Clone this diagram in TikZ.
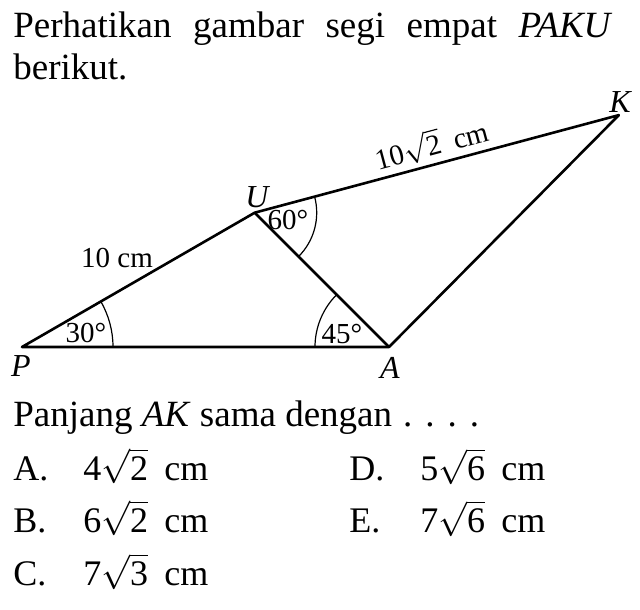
\documentclass[tikz,border=0pt]{standalone}
\usepackage{fontspec}
\setmainfont{Liberation Serif}
\usetikzlibrary{calc}
\newcommand{\rt}[1]{$\sqrt{\mbox{#1}}$}
\newcommand{\cmu}{\hspace{0.45em}cm}
\begin{document}
\begin{tikzpicture}[x=0.5pt,y=0.5pt,
  txt/.style={anchor=base west,inner sep=0pt,font=\fontsize{18.5}{22}\selectfont},
  opt/.style={anchor=base west,inner sep=0pt,font=\fontsize{18}{22}\selectfont},
  lbl/.style={inner sep=0pt,font=\fontsize{14.5}{17}\selectfont},
  vtx/.style={inner sep=0pt,font=\fontsize{16}{18}\selectfont\itshape},
  edge/.style={line width=1.3pt,line join=round},
  ang/.style={line width=0.6pt}]
\useasboundingbox (0,0) rectangle (640,609);
% header
\node[txt] (h1) at (13,571) {\hbox to 299.5pt{Perhatikan\hfill gambar\hfill segi\hfill empat\hfill \textit{PAKU}}};
\node[txt] (h2) at (13,529) {berikut.};
% vertices
\coordinate (P) at (22,262);
\coordinate (A) at (389,262);
\coordinate (U) at (254.7,396.3);
\coordinate (K) at ($(U)+(15:377)$);
\draw[edge] (P) -- (A) -- (K) -- (U) -- cycle;
\draw[edge] (U) -- (A);
% angle arcs
\draw[ang] ($(P)+(0:91)$) arc[start angle=0,end angle=30,radius=91];
\draw[ang] ($(A)+(135:74)$) arc[start angle=135,end angle=180,radius=74];
\draw[ang] ($(U)+(-45:62)$) arc[start angle=-45,end angle=15,radius=62];
% vertex labels
\node[vtx] (lP) at (21,243) {P};
\node[vtx] (lA) at (390,241) {A};
\node[vtx] (lU) at (257,412) {U};
\node[vtx] (lK) at (620,507) {K};
% angle labels
\node[lbl] (a30) at (86,276) {30°};
\node[lbl] (a45) at (342,275) {45°};
\node[lbl] (a60) at (288,389) {60°};
% side labels
\node[lbl] (s1) at (117,351) {10 cm};
\node[lbl,rotate=15,anchor=base] (s2) at ($(U)!0.5!(K)+(105:9)$) {10\rt{2}\cmu};
% question
\node[txt] (q) at (13,182) {Panjang \textit{AK} sama dengan\hspace{5.5pt}.\hspace{6.5pt}.\hspace{6.5pt}.\hspace{6.5pt}.};
\node[opt] (oA) at (13,129) {A.};
\node[opt] (vA) at (83,129) {4\rt{2}\cmu};
\node[opt] (oB) at (13,77) {B.};
\node[opt] (vB) at (83,77) {6\rt{2}\cmu};
\node[opt] (oC) at (13,24) {C.};
\node[opt] (vC) at (83,24) {7\rt{3}\cmu};
\node[opt] (oD) at (349,129) {D.};
\node[opt] (vD) at (420,129) {5\rt{6}\cmu};
\node[opt] (oE) at (349,77) {E.};
\node[opt] (vE) at (420,77) {7\rt{6}\cmu};
\end{tikzpicture}
\end{document}
